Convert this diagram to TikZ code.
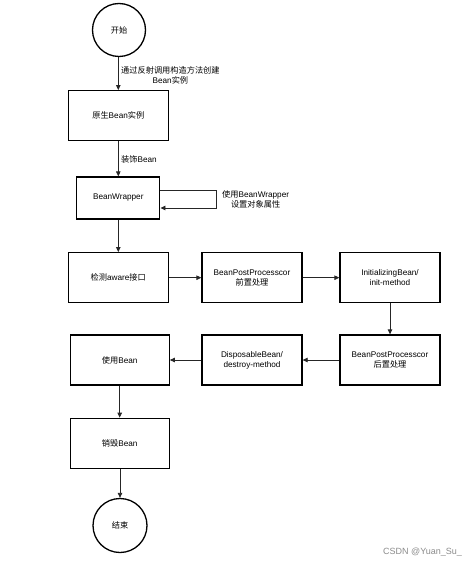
\documentclass[tikz,border=0pt]{standalone}
\usepackage{fontspec}
\setmainfont{Liberation Sans}
\newfontfamily\cjk{Noto Sans CJK SC}
\usetikzlibrary{arrows.meta}
\newcommand{\ZH}[1]{{\cjk #1}}
\begin{document}
\begin{tikzpicture}[x=1pt,y=-1pt,
  txt/.style={font=\fontsize{8.2}{10}\selectfont, align=center, inner sep=0pt},
  box/.style={txt, draw=black, line width=1.3pt, minimum width=100pt, minimum height=50pt},
  term/.style={txt, draw=black, circle, line width=1.3pt, minimum size=53pt},
  conn/.style={draw=black!85, line width=0.8pt, -{Triangle[length=5pt,width=4.5pt]}},
  lbl/.style={txt}]
\useasboundingbox[fill=white] (0,0) rectangle (474,564);
\node[term] (start) at (119,30) {\ZH{开始}};
\node[box] (raw) at (118.3,115.7) {\ZH{原生}Bean\ZH{实例}};
\node[box, minimum width=83pt, minimum height=42pt] (bw) at (118.3,198) {BeanWrapper};
\node[box] (aware) at (118.3,277.7) {\ZH{检测}aware\ZH{接口}};
\node[box] (pre) at (252,277.7) {BeanPostProcesscor\\\ZH{前置处理}};
\node[box] (init) at (390,277.7) {InitializingBean/\\init-method};
\node[box] (post) at (390,360) {BeanPostProcesscor\\\ZH{后置处理}};
\node[box] (disp) at (252,360) {DisposableBean/\\destroy-method};
\node[box, minimum width=99pt] (use) at (119.7,360) {\ZH{使用}Bean};
\node[box, minimum width=99pt] (destroy) at (119.7,443.3) {\ZH{销毁}Bean};
\node[term, minimum size=54pt] (end) at (120,525.5) {\ZH{结束}};

\draw[conn] (start.south -| raw.north) -- (raw.north);
\node[lbl, anchor=west] (l1) at (121,75) {\ZH{通过反射调用构造方法创建}\\Bean\ZH{实例}};
\draw[conn] (raw) -- (bw);
\node[lbl, anchor=west] (l2) at (121,159.3) {\ZH{装饰}Bean};
\coordinate (la) at (216.7,190.7);
\coordinate (lb) at (216.7,208);
\draw[conn] (bw.east |- la) -- (la) -- (lb) -- (bw.east |- lb);
\node[lbl, anchor=west] (l3) at (222,199.5) {\ZH{使用}BeanWrapper\\\ZH{设置对象属性}};
\draw[conn] (bw) -- (aware);
\draw[conn] (aware) -- (pre);
\draw[conn] (pre) -- (init);
\draw[conn] (init) -- (post);
\draw[conn] (post) -- (disp);
\draw[conn] (disp) -- (use);
\draw[conn] (use) -- (destroy);
\draw[conn] (destroy.south -| end.north) -- (end.north);
\node[txt, text=black!45, font=\fontsize{9}{10}\selectfont, anchor=east] (wm) at (462,551.7) {CSDN @Yuan\_Su\_};
\end{tikzpicture}
\end{document}
